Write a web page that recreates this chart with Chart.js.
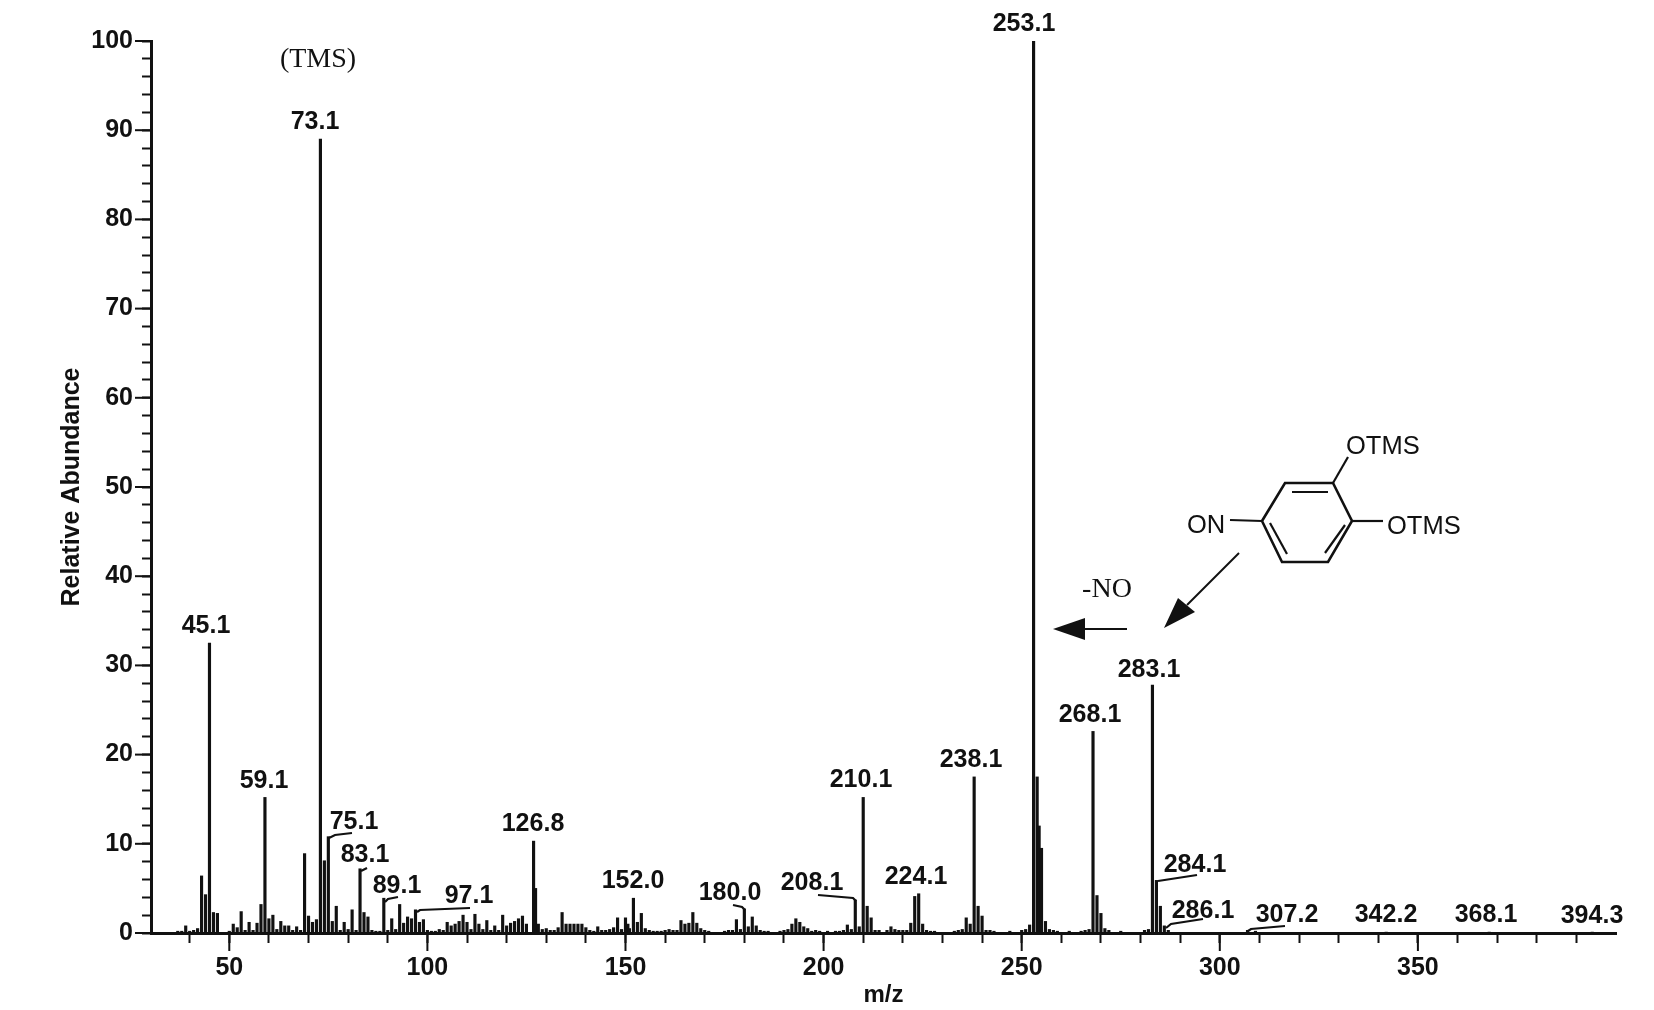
<!DOCTYPE html>
<html>
<head>
<meta charset="utf-8">
<title>Mass spectrum</title>
<script src="https://cdn.jsdelivr.net/npm/chart.js@4/dist/chart.umd.min.js"></script>
<style>
  html, body { margin: 0; padding: 0; background: #fff; }
  canvas { display: block; }
</style>
</head>
<body>
<canvas id="myChart" width="1654" height="1010"></canvas>
<script>
// peaks, m/z and relative abundance
var mz = [39, 41, 42, 43, 44, 45, 46, 47, 51, 52, 53, 55, 57, 58, 59, 60, 61, 63, 64, 65, 67, 69, 70, 71, 72, 73, 74, 75, 76, 77, 79, 81, 83, 84, 85,
  89, 91, 93, 94, 95, 96, 97, 98, 99, 103, 105, 106, 107, 108, 109, 110, 112, 113, 115, 117, 119, 120, 121, 122, 123, 124, 125, 126.8, 127.3, 128, 130,
  133, 134, 135, 136, 137, 138, 139, 140, 143, 147, 148, 150, 150.6, 152, 153, 154, 155,
  160, 161, 163, 164, 165, 166, 167, 168, 169, 176, 178, 180, 181, 182, 183,
  190, 192, 193, 194, 195, 196, 197, 204, 206, 208, 209, 210, 211, 212,
  217, 219, 222, 223, 224, 225, 226, 236, 237, 238, 239, 240, 241,
  252, 253, 253.9, 254.4, 255, 256, 257, 266, 268, 269, 270, 271,
  283, 284, 285, 286, 287, 307, 309, 342, 368, 394];
var abundance = [0.8, 0.3, 0.5, 6.4, 4.3, 32.5, 2.3, 2.2, 1, 0.6, 2.4, 1.2, 1.1, 3.2, 15.2, 1.6, 2, 1.3, 0.8, 0.8, 0.7, 8.9, 1.9, 1.2, 1.5, 89, 8.1, 10.8, 1.3, 3, 1.2, 2.6, 7.2, 2.3, 1.8,
  3.9, 1.6, 3.2, 1.1, 1.8, 1.6, 2.6, 1.2, 1.5, 0.4, 1.2, 0.8, 1, 1.3, 2, 1.2, 2.1, 1, 1.4, 0.8, 2, 0.8, 1.1, 1.3, 1.6, 1.9, 1, 10.3, 5, 1, 0.5,
  0.6, 2.3, 1, 1, 1, 1, 1, 0.6, 0.7, 0.6, 1.7, 1.7, 1, 3.9, 1.2, 2.2, 0.5,
  0.3, 0.4, 0.3, 1.4, 1, 1.1, 2.3, 1.1, 0.5, 0.3, 1.5, 2.7, 0.7, 1.8, 0.8,
  0.3, 1, 1.6, 1.2, 0.7, 0.5, 0.2, 0.2, 0.9, 3.7, 0.7, 15.2, 3, 1.7,
  0.7, 0.3, 1.1, 4.1, 4.4, 1, 0.3, 1.7, 1, 17.5, 3, 1.9, 0.3,
  0.9, 100, 17.5, 12, 9.5, 1.3, 0.4, 0.3, 22.6, 4.2, 2.2, 0.5,
  27.8, 5.9, 3, 0.8, 0.3, 0.3, 0.2, 0.1, 0.1, 0.1];

// the tiny bumps along the baseline
var smallMz = [37, 38, 40, 50, 54, 56, 62, 66, 68, 78, 80, 82, 86, 87, 88, 90, 92, 100, 101, 102, 104, 111, 114, 116, 118, 129, 131, 132, 141, 142, 144, 145, 146, 149, 151, 156, 157, 158, 159, 162, 170, 171, 175, 177, 179, 184, 185, 186, 189, 191, 198, 199, 201, 203, 205, 207, 213, 214, 216, 218, 220, 221, 227, 228, 233, 234, 235, 242, 243, 247, 250, 251, 258, 259, 262, 265, 267, 272, 275, 281, 282];
var smallAbundance = [0.2, 0.2, 0.2, 0.2, 0.3, 0.3, 0.4, 0.3, 0.3, 0.3, 0.4, 0.3, 0.3, 0.2, 0.2, 0.3, 0.4, 0.3, 0.2, 0.2, 0.3, 0.4, 0.4, 0.3, 0.3, 0.4, 0.3, 0.3, 0.3, 0.2, 0.3, 0.3, 0.4, 0.4, 0.5, 0.3, 0.2, 0.2, 0.2, 0.3, 0.3, 0.2, 0.2, 0.3, 0.4, 0.3, 0.2, 0.2, 0.2, 0.4, 0.3, 0.2, 0.2, 0.2, 0.3, 0.4, 0.3, 0.3, 0.3, 0.4, 0.3, 0.3, 0.2, 0.2, 0.2, 0.3, 0.4, 0.3, 0.2, 0.2, 0.3, 0.4, 0.3, 0.2, 0.2, 0.2, 0.4, 0.3, 0.2, 0.3, 0.4];

var xTicks = [40, 50, 60, 70, 80, 90, 100, 110, 120, 130, 140, 150, 160, 170, 180, 190, 200, 210, 220, 230, 240, 250, 260, 270, 280, 290, 300, 310, 320, 330, 340, 350, 360, 370, 380, 390];
var yTicks = [0, 2, 4, 6, 8, 10, 12, 14, 16, 18, 20, 22, 24, 26, 28, 30, 32, 34, 36, 38, 40, 42, 44, 46, 48, 50, 52, 54, 56, 58, 60, 62, 64, 66, 68, 70, 72, 74, 76, 78, 80, 82, 84, 86, 88, 90, 92, 94, 96, 98, 100];

var peakLabels = ["253.1", "73.1", "45.1", "59.1", "75.1", "83.1", "89.1", "97.1", "126.8", "152.0", "180.0", "208.1", "210.1", "224.1", "238.1", "268.1", "283.1", "284.1", "286.1", "307.2", "342.2", "368.1", "394.3"];

// where the label text sits on the page, same order as peakLabels
var labelPlace = [[1024, 24], [315, 122], [206, 626], [264, 781], [354, 822], [365, 855], [397, 886], [469, 896], [533, 824], [633, 881], [730, 893], [812, 883], [861, 780], [916, 877], [971, 760], [1090, 715], [1149, 670], [1195, 865], [1203, 911], [1287, 915], [1386, 915], [1486, 915], [1592, 916]];

var black = "#111";
var labelFont = "bold 25px 'Liberation Sans'";

function polyline(ctx, pts) {
  ctx.beginPath();
  ctx.moveTo(pts[0][0], pts[0][1]);
  for (var i = 1; i < pts.length; i++) ctx.lineTo(pts[i][0], pts[i][1]);
  ctx.stroke();
}

function filled(ctx, pts) {
  ctx.beginPath();
  ctx.moveTo(pts[0][0], pts[0][1]);
  for (var i = 1; i < pts.length; i++) ctx.lineTo(pts[i][0], pts[i][1]);
  ctx.closePath();
  ctx.fill();
}

//longer ticks at the labelled values
var longTicks = {
  id: "longTicks",
  afterDraw: function(chart) {
    var ctx = chart.ctx, x = chart.scales.x, y = chart.scales.y;
    ctx.save();
    ctx.strokeStyle = black;
    ctx.lineWidth = 2;
    xTicks.forEach(function(v) {
      if (v % 50 == 0) polyline(ctx, [[x.getPixelForValue(v), x.top], [x.getPixelForValue(v), x.top + 18]]);
    });
    yTicks.forEach(function(v) {
      if (v % 10 == 0) polyline(ctx, [[y.right - 16, y.getPixelForValue(v)], [y.right, y.getPixelForValue(v)]]);
    });
    ctx.restore();
  }
};

//peak labels, their little leader lines and the structure drawing
var notes = {
  id: "notes",
  afterDraw: function(chart) {
    var ctx = chart.ctx;
    ctx.save();
    ctx.fillStyle = black;
    ctx.strokeStyle = black;
    ctx.textAlign = "center";
    ctx.textBaseline = "middle";
    ctx.font = labelFont;
    peakLabels.forEach(function(t, i) {
      ctx.fillText(t, labelPlace[i][0], labelPlace[i][1]);
    });

    ctx.lineWidth = 2.2;
    polyline(ctx, [[329, 838], [335, 835], [352, 833]]);
    polyline(ctx, [[361, 871], [367, 868]]);
    polyline(ctx, [[385, 902], [388, 899], [398, 897]]);
    polyline(ctx, [[417, 912], [420, 910], [470, 908]]);
    polyline(ctx, [[745, 910], [742, 907], [733, 905]]);
    polyline(ctx, [[856, 901], [853, 898], [818, 895]]);
    polyline(ctx, [[1158, 881], [1197, 875]]);
    polyline(ctx, [[1166, 928], [1171, 924], [1203, 919]]);
    polyline(ctx, [[1248, 931], [1251, 929], [1285, 926]]);

    // benzene ring
    ctx.lineWidth = 2.6;
    polyline(ctx, [[1262, 521], [1285, 483], [1333, 483], [1352, 521], [1328, 562], [1282, 562], [1262, 521]]);
    ctx.lineWidth = 2.2;
    polyline(ctx, [[1292, 492], [1328, 492]]);
    polyline(ctx, [[1270, 523], [1287, 554]]);
    polyline(ctx, [[1345, 525], [1325, 553]]);
    polyline(ctx, [[1230, 520], [1262, 521]]);
    polyline(ctx, [[1333, 483], [1348, 457]]);
    polyline(ctx, [[1352, 521], [1383, 521]]);

    // arrows
    ctx.lineWidth = 2;
    polyline(ctx, [[1239, 553], [1187, 605]]);
    filled(ctx, [[1164, 628], [1178, 598], [1195, 612]]);
    polyline(ctx, [[1127, 629], [1085, 629]]);
    filled(ctx, [[1053, 629], [1085, 618], [1085, 640]]);

    ctx.font = "25.5px 'Liberation Sans'";
    ctx.textAlign = "left";
    ctx.fillText("ON", 1187, 526);
    ctx.fillText("OTMS", 1346, 447);
    ctx.fillText("OTMS", 1387, 527);

    ctx.font = "28px 'Liberation Serif'";
    ctx.textAlign = "center";
    ctx.fillText("-NO", 1107, 590);
    ctx.fillText("(TMS)", 318, 60);
    ctx.restore();
  }
};

var points = [];
for (var i = 0; i < mz.length; i++) {
  points.push({x: mz[i], y: abundance[i]});
}
for (var j = 0; j < smallMz.length; j++) {
  points.push({x: smallMz[j], y: smallAbundance[j]});
}

var ctx = document.getElementById("myChart").getContext("2d");
var myChart = new Chart(ctx, {
  type: "bar",
  data: {
    datasets: [{
      data: points,
      backgroundColor: black,
      barThickness: 2.5
    }]
  },
  options: {
    responsive: false,
    animation: false,
    layout: { padding: { left: 0, top: 41, right: 38, bottom: 0 } },
    plugins: { legend: { display: false }, tooltip: { enabled: false } },
    scales: {
      x: {
        type: "linear",
        offset: false,
        min: 30.24,
        max: 400,
        afterBuildTicks: function(axis) {
          axis.ticks = xTicks.map(function(v) { return {value: v}; });
        },
        afterFit: function(axis) { axis.height = 77; },
        grid: { drawOnChartArea: false, tickLength: 10, tickWidth: 2, tickColor: black, offset: false },
        border: { color: black, width: 3 },
        ticks: {
          autoSkip: false,
          maxRotation: 0,
          padding: 10,
          color: black,
          font: { family: "Liberation Sans", size: 25, weight: "bold" },
          callback: function(v) { return (v % 50 == 0) ? v : ""; }
        },
        title: {
          display: true,
          text: "m/z",
          color: black,
          font: { family: "Liberation Sans", size: 24, weight: "bold" },
          padding: { top: 0, bottom: 0 }
        }
      },
      y: {
        min: 0,
        max: 100,
        afterBuildTicks: function(axis) {
          axis.ticks = yTicks.map(function(v) { return {value: v}; });
        },
        afterFit: function(axis) { axis.width = 151; },
        grid: { drawOnChartArea: false, tickLength: 9, tickWidth: 2, tickColor: black },
        border: { color: black, width: 3 },
        ticks: {
          autoSkip: false,
          padding: 9,
          color: black,
          font: { family: "Liberation Sans", size: 25, weight: "bold" },
          callback: function(v) { return (v % 10 == 0) ? v : ""; }
        },
        title: {
          display: true,
          text: "Relative Abundance",
          color: black,
          font: { family: "Liberation Sans", size: 25, weight: "bold" },
          padding: { top: 57, bottom: 0 }
        }
      }
    }
  },
  plugins: [longTicks, notes]
});
</script>
</body>
</html>
